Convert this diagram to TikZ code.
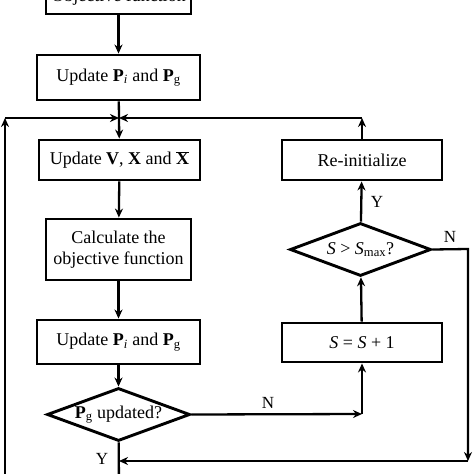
\documentclass[tikz,border=0pt]{standalone}
\usepackage{fontspec}
\setmainfont{Liberation Serif}
\usetikzlibrary{arrows.meta, shapes.geometric}

\newcommand{\Pvec}[1]{\textbf{P}\textsubscript{#1}}

\begin{document}
\begin{tikzpicture}[x=1pt, y=-1pt, line width=2.3pt,
  every node/.style={font=\fontsize{18}{21}\selectfont},
  pbox/.style={draw, line width=2.9pt, align=center, inner sep=0pt, minimum width=163pt, minimum height=45pt},
  dbox/.style={draw, line width=2.9pt, diamond, aspect=2.7, inner sep=0pt, minimum width=143pt, minimum height=53pt},
  farr/.style={-{Stealth[length=9pt, width=8pt]}},
  ylab/.style={font=\fontsize{17}{19}\selectfont}]
  \useasboundingbox (0,0) rectangle (474,474);

  % LEFT column: main loop
  \node[pbox, minimum width=145pt, minimum height=34pt] (obj) at (118.5,-3) {Objective function};
  \node[pbox] (upd1) at (118.5,77.5) {Update \Pvec{\textit{i}} and \Pvec{g}};
  \node[pbox, minimum width=161pt, minimum height=40pt] (upd2) at (119.5,160)
    {Update \textbf{V}, \textbf{X} and $\overline{\mbox{\textbf{X}}}$};
  \node[pbox, minimum width=145pt, minimum height=61pt] (calc) at (118.5,249.5) {Calculate the\\objective function};
  \node[pbox, minimum height=44pt] (upd3) at (118.5,342) {Update \Pvec{\textit{i}} and \Pvec{g}};
  \node[dbox] (pgq) at (118.5,414.5) {\Pvec{g} updated?};

  % RIGHT column: stagnation check
  \node[pbox, minimum width=160pt, minimum height=40pt] (reinit) at (362,160) {Re-initialize};
  \node[dbox, minimum width=141pt] (smax) at (360.5,249.5) {\textit{S} > \textit{S}\textsubscript{max}?};
  \node[pbox, minimum width=160pt, minimum height=39pt] (sinc) at (362,342.5) {\textit{S} = \textit{S} + 1};

  % junctions
  \coordinate (jn) at (119,118);
  \coordinate (jl) at (5,118);
  \coordinate (jr) at (362,118);
  \coordinate (lbot) at (5,490);
  \coordinate (pgend) at (119,490);
  \coordinate (yj) at (119,461);
  \coordinate (nc) at (362,414);
  \coordinate (rc) at (468,249);
  \coordinate (rb) at (468,461);

  \draw[farr] (obj) -- (upd1);
  \draw (upd1) -- (jn);
  \draw[farr] (jn) -- (upd2);
  \draw[farr] (lbot) -- (jl);
  \draw[farr] (jl) -- (jn);
  \draw[farr] (reinit) -- (jr);
  \draw[farr] (jr) -- (jn);
  \draw[farr] (upd2) -- (calc);
  \draw[farr] (calc) -- (upd3);
  \draw[farr] (upd3) -- (pgq);
  \draw (pgq) -- (pgend);
  \node[ylab] (ylow) at (102,459) {Y};

  \draw[farr] (pgq.east) -- (nc);
  \draw[farr] (nc) -- (sinc);
  \node[ylab] (nlow) at (268,403) {N};
  \draw[farr] (sinc) -- (smax);
  \draw[farr] (smax) -- (reinit) node[midway, right=5pt, ylab] (yup) {Y};
  \draw[farr] (smax.east) -- (rc) -- (rb);
  \node[ylab] (nup) at (450,237) {N};
  \draw[farr] (rb) -- (yj);
\end{tikzpicture}
\end{document}
